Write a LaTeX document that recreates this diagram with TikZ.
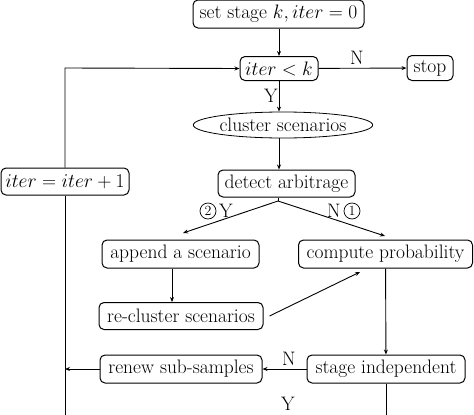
\RequirePackage{fix-cm}
\documentclass[tikz,border=0pt]{standalone}
\usetikzlibrary{shapes.geometric,arrows.meta}
\begin{document}
\begin{tikzpicture}[x=1pt,y=-1pt,
  fnt/.style={font=\fontsize{19.5}{23}\selectfont},
  box/.style={draw,rounded corners=5pt,line width=1pt,inner sep=0pt,fnt},
  oval/.style={draw,ellipse,line width=0.8pt,inner sep=0pt,fnt},
  lab/.style={inner sep=0pt,fnt},
  cnum/.style={draw,circle,line width=0.7pt,inner sep=0pt,minimum size=16pt,font=\fontsize{14}{16}\selectfont},
  conn/.style={line width=0.9pt},
  arr/.style={conn,-{Stealth[length=5pt,width=4pt]}}]
\useasboundingbox (0,0) rectangle (474,415);
% nodes
\node[box,minimum width=171pt,minimum height=28pt] (set) at (278.5,14) {set stage $k, iter=0$};
\node[box,minimum width=78pt,minimum height=24pt] (iter) at (279,68.5) {$iter<k$};
\node[box,minimum width=46pt,minimum height=25pt] (stop) at (430,68) {stop};
\node[oval,minimum width=170pt,minimum height=26pt] (clu) at (283,125) {cluster scenarios};
\node[box,minimum width=137pt,minimum height=27pt] (det) at (286.5,183.5) {detect arbitrage};
\node[box,minimum width=128pt,minimum height=27pt] (inc) at (65,181.5) {$iter=iter+1$};
\node[box,minimum width=157pt,minimum height=28pt] (app) at (180.5,254) {append a scenario};
\node[box,minimum width=174pt,minimum height=28pt] (comp) at (385.5,254) {compute probability};
\node[box,minimum width=164pt,minimum height=27pt] (reclu) at (181,316) {re-cluster scenarios};
\node[box,minimum width=162pt,minimum height=28pt] (renew) at (181,369) {renew sub-samples};
\node[box,minimum width=158pt,minimum height=28pt] (stind) at (386,369) {stage independent};
% coordinates
\coordinate (col) at (279,0);
\coordinate (peak) at (278,201);
\coordinate (lend) at (183,233);
\coordinate (rend) at (385,236);
\coordinate (loopT) at (65,68);
\coordinate (loopB) at (65,415);
\coordinate (sB) at (386,415);
\coordinate (rcE) at (360,272);
% labels
\node[lab] (lN1) at (357,58) {N};
\node[lab] (lY1) at (271,96) {Y};
\node[cnum] (c2) at (208,211) {2};
\node[lab] (lY2) at (226,211) {Y};
\node[lab] (lN2) at (334,211) {N};
\node[cnum] (c1) at (352,211) {1};
\node[lab] (lN3) at (289,359) {N};
\node[lab] (lY3) at (288,404) {Y};
% connectors
\draw[arr] (set.south -| col) -- (iter.north -| col);
\draw[arr] (iter) -- (stop);
\draw[arr] (iter.south -| col) -- (clu.north -| col);
\draw[arr] (clu.south -| col) -- (det.north -| col);
\draw[conn] (det.south -| peak) -- (peak);
\draw[arr] (peak) -- (lend);
\draw[arr] (peak) -- (rend);
\draw[arr] (app.south -| 172,0) -- (reclu.north -| 172,0);
\draw[arr] (reclu.east) ++(6,0) -- (rcE);
\draw[arr] (comp) -- (stind);
\draw[arr] (stind) -- (renew);
\draw[arr] (renew.west) -- (renew.west -| loopB);
\draw[arr] (inc.north) -- (loopT) -- (iter.west);
\draw[conn] (inc.south) -- (loopB);
\draw[conn] (stind.south) -- (sB);
\end{tikzpicture}
\end{document}
